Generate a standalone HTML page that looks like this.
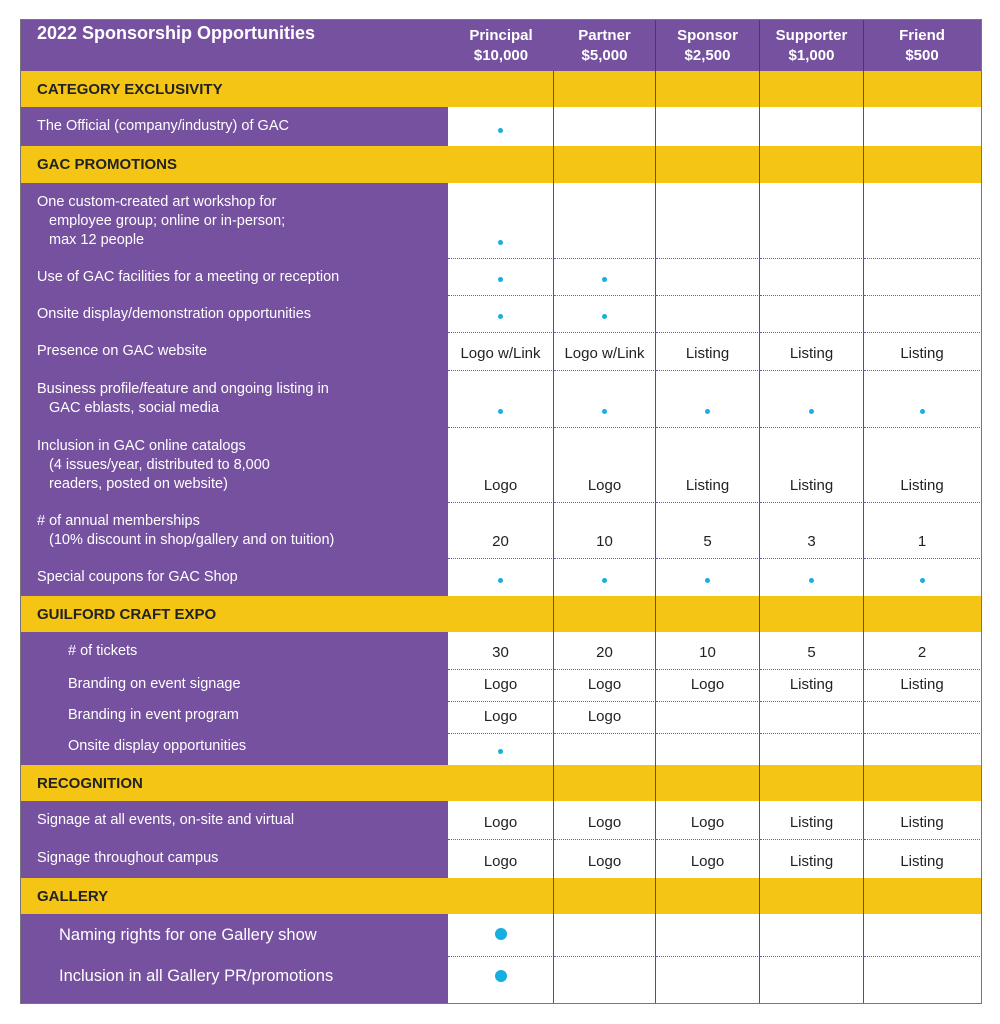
<!DOCTYPE html>
<html><head><meta charset="utf-8"><style>
*{margin:0;padding:0;box-sizing:border-box}
body{width:1000px;height:1024px;background:#fff;font-family:"Liberation Sans",sans-serif;position:relative;overflow:hidden}
#t{position:absolute;left:20px;top:19px;width:962px;border:1px solid #777}
.r{display:flex;position:relative}
.c{width:106px;border-right:1px solid #555;display:flex;align-items:flex-end;justify-content:center;font-size:15px;color:#222;padding-bottom:8px;position:relative}
.c:nth-child(3){width:102px}.c:nth-child(4){width:104px}.c:nth-child(5){width:104px}.c:nth-child(6){width:116px;border-right:none}
.l{width:427px;background:#76519f;color:#fff;font-size:14.5px;line-height:19px;padding:10px 0 0 16px}
.l .i{padding-left:12px;display:block}
.d{width:5px;height:5px;border-radius:50%;background:#17aee0;margin-bottom:5px}
.D{width:12px;height:12px;border-radius:50%;background:#17aee0;margin-bottom:6px}
.dt .c{border-top:1px dotted #7b4fc4}
.y{background:#f5c515}
.y .l{background:#f5c515;color:#222;font-weight:bold;font-size:15px;padding-top:0;display:flex;align-items:center}
.y .c{border-right-color:#555}
.h{background:#76519f;height:51px}
.h .l{font-weight:bold;font-size:18px;padding-top:4px}
.h .c{color:#fff;font-weight:bold;font-size:15px;line-height:20px;text-align:center;align-items:flex-start;padding-top:6px;border-right-color:#444}
</style></head><body><div id="t">
<div class="r h"><div class="l">2022 Sponsorship Opportunities</div><div class="c" style="border-right:none">Principal<br>$10,000</div><div class="c">Partner<br>$5,000</div><div class="c">Sponsor<br>$2,500</div><div class="c">Supporter<br>$1,000</div><div class="c">Friend<br>$500</div></div>
<div class="r y" style="height:36px"><div class="l">CATEGORY EXCLUSIVITY</div><div class="c"></div><div class="c"></div><div class="c"></div><div class="c"></div><div class="c"></div></div>
<div class="r" style="height:39px"><div class="l">The Official (company/industry) of GAC</div><div class="c"><div class="d"></div></div><div class="c"></div><div class="c"></div><div class="c"></div><div class="c"></div></div>
<div class="r y" style="height:37px"><div class="l">GAC PROMOTIONS</div><div class="c"></div><div class="c"></div><div class="c"></div><div class="c"></div><div class="c"></div></div>
<div class="r" style="height:75px"><div class="l">One custom-created art workshop for<span class="i">employee group; online or in-person;</span><span class="i">max 12 people</span></div><div class="c"><div class="d"></div></div><div class="c"></div><div class="c"></div><div class="c"></div><div class="c"></div></div>
<div class="r dt" style="height:37px"><div class="l">Use of GAC facilities for a meeting or reception</div><div class="c"><div class="d"></div></div><div class="c"><div class="d"></div></div><div class="c"></div><div class="c"></div><div class="c"></div></div>
<div class="r dt" style="height:37px"><div class="l">Onsite display/demonstration opportunities</div><div class="c"><div class="d"></div></div><div class="c"><div class="d"></div></div><div class="c"></div><div class="c"></div><div class="c"></div></div>
<div class="r dt" style="height:38px"><div class="l">Presence on GAC website</div><div class="c">Logo w/Link</div><div class="c">Logo w/Link</div><div class="c">Listing</div><div class="c">Listing</div><div class="c">Listing</div></div>
<div class="r dt" style="height:57px"><div class="l">Business profile/feature and ongoing listing in<span class="i">GAC eblasts, social media</span></div><div class="c"><div class="d"></div></div><div class="c"><div class="d"></div></div><div class="c"><div class="d"></div></div><div class="c"><div class="d"></div></div><div class="c"><div class="d"></div></div></div>
<div class="r dt" style="height:75px"><div class="l">Inclusion in GAC online catalogs<span class="i">(4 issues/year, distributed to 8,000</span><span class="i">readers, posted on website)</span></div><div class="c">Logo</div><div class="c">Logo</div><div class="c">Listing</div><div class="c">Listing</div><div class="c">Listing</div></div>
<div class="r dt" style="height:56px"><div class="l"># of annual memberships<span class="i">(10% discount in shop/gallery and on tuition)</span></div><div class="c">20</div><div class="c">10</div><div class="c">5</div><div class="c">3</div><div class="c">1</div></div>
<div class="r dt" style="height:38px"><div class="l">Special coupons for GAC Shop</div><div class="c"><div class="d"></div></div><div class="c"><div class="d"></div></div><div class="c"><div class="d"></div></div><div class="c"><div class="d"></div></div><div class="c"><div class="d"></div></div></div>
<div class="r y" style="height:36px"><div class="l">GUILFORD CRAFT EXPO</div><div class="c"></div><div class="c"></div><div class="c"></div><div class="c"></div><div class="c"></div></div>
<div class="r" style="height:37px"><div class="l" style="padding-left:47px;padding-top:10px"># of tickets</div><div class="c">30</div><div class="c">20</div><div class="c">10</div><div class="c">5</div><div class="c">2</div></div>
<div class="r dt" style="height:32px"><div class="l" style="padding-left:47px;padding-top:6px">Branding on event signage</div><div class="c">Logo</div><div class="c">Logo</div><div class="c">Logo</div><div class="c">Listing</div><div class="c">Listing</div></div>
<div class="r dt" style="height:32px"><div class="l" style="padding-left:47px;padding-top:5px">Branding in event program</div><div class="c">Logo</div><div class="c">Logo</div><div class="c"></div><div class="c"></div><div class="c"></div></div>
<div class="r dt" style="height:32px"><div class="l" style="padding-left:47px;padding-top:4px">Onsite display opportunities</div><div class="c"><div class="d" style="margin-bottom:3px"></div></div><div class="c"></div><div class="c"></div><div class="c"></div><div class="c"></div></div>
<div class="r y" style="height:36px"><div class="l">RECOGNITION</div><div class="c"></div><div class="c"></div><div class="c"></div><div class="c"></div><div class="c"></div></div>
<div class="r" style="height:38px"><div class="l">Signage at all events, on-site and virtual</div><div class="c">Logo</div><div class="c">Logo</div><div class="c">Logo</div><div class="c">Listing</div><div class="c">Listing</div></div>
<div class="r dt" style="height:39px"><div class="l">Signage throughout campus</div><div class="c">Logo</div><div class="c">Logo</div><div class="c">Logo</div><div class="c">Listing</div><div class="c">Listing</div></div>
<div class="r y" style="height:36px"><div class="l">GALLERY</div><div class="c"></div><div class="c"></div><div class="c"></div><div class="c"></div><div class="c"></div></div>
<div class="r" style="height:42px"><div class="l" style="padding-left:38px;font-size:16.5px;padding-top:12px">Naming rights for one Gallery show</div><div class="c"><div class="D" style="margin-bottom:8px"></div></div><div class="c"></div><div class="c"></div><div class="c"></div><div class="c"></div></div>
<div class="r dt" style="height:47px"><div class="l" style="padding-left:38px;font-size:16.5px;padding-top:11px">Inclusion in all Gallery PR/promotions</div><div class="c" style="align-items:flex-start;padding-top:13px"><div class="D"></div></div><div class="c"></div><div class="c"></div><div class="c"></div><div class="c"></div></div>
</div></body></html>
